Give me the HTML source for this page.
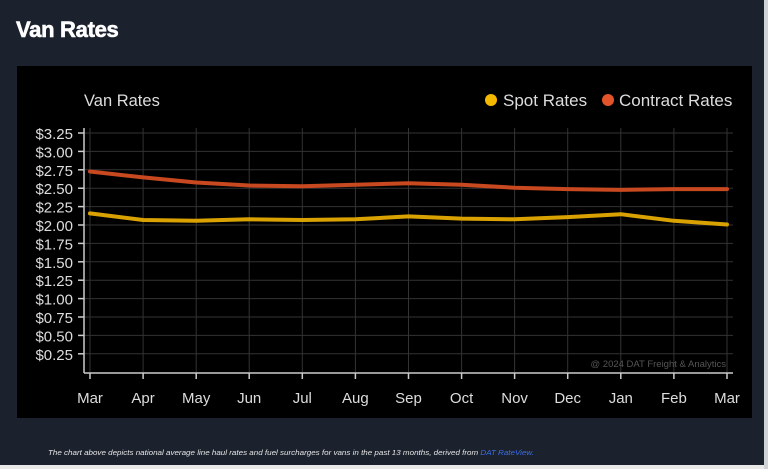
<!DOCTYPE html>
<html><head><style>
body{margin:0;width:768px;height:469px;background:#1b222d;overflow:hidden;font-family:"Liberation Sans",sans-serif;}
</style></head><body>
<svg width="768" height="469" xmlns="http://www.w3.org/2000/svg" style="position:absolute;left:0;top:0">
<rect x="0" y="0" width="768" height="469" fill="#1b222d"/>
<rect x="0" y="465" width="768" height="4" fill="#e8e8e8"/>
<rect x="764" y="0" width="4" height="469" fill="#cfd2d6"/>
<text x="16" y="37" fill="#fff" font-size="22" font-weight="bold" stroke="#fff" stroke-width="0.6" letter-spacing="-0.3">Van Rates</text>
<rect x="17" y="66" width="735" height="352" fill="#000"/>
<text x="84" y="106" fill="#ddd" font-size="16.5">Van Rates</text>
<circle cx="491" cy="100" r="6" fill="#f5b800"/>
<text x="503" y="106" fill="#ddd" font-size="17">Spot Rates</text>
<circle cx="608" cy="100" r="6" fill="#e4542a"/>
<text x="619" y="106" fill="#ddd" font-size="17">Contract Rates</text>
<g stroke="#333" stroke-width="1">
<line x1="84" x2="733" y1="133" y2="133"/><line x1="84" x2="733" y1="151.4" y2="151.4"/><line x1="84" x2="733" y1="169.8" y2="169.8"/><line x1="84" x2="733" y1="188.2" y2="188.2"/><line x1="84" x2="733" y1="206.6" y2="206.6"/><line x1="84" x2="733" y1="225" y2="225"/><line x1="84" x2="733" y1="243.4" y2="243.4"/><line x1="84" x2="733" y1="261.8" y2="261.8"/><line x1="84" x2="733" y1="280.2" y2="280.2"/><line x1="84" x2="733" y1="298.6" y2="298.6"/><line x1="84" x2="733" y1="317" y2="317"/><line x1="84" x2="733" y1="335.4" y2="335.4"/><line x1="84" x2="733" y1="353.8" y2="353.8"/>
<line x1="90" x2="90" y1="128" y2="372"/><line x1="143.1" x2="143.1" y1="128" y2="372"/><line x1="196.2" x2="196.2" y1="128" y2="372"/><line x1="249.2" x2="249.2" y1="128" y2="372"/><line x1="302.3" x2="302.3" y1="128" y2="372"/><line x1="355.4" x2="355.4" y1="128" y2="372"/><line x1="408.5" x2="408.5" y1="128" y2="372"/><line x1="461.6" x2="461.6" y1="128" y2="372"/><line x1="514.6" x2="514.6" y1="128" y2="372"/><line x1="567.7" x2="567.7" y1="128" y2="372"/><line x1="620.8" x2="620.8" y1="128" y2="372"/><line x1="673.9" x2="673.9" y1="128" y2="372"/><line x1="727" x2="727" y1="128" y2="372"/>
</g>
<g stroke="#ccc" stroke-width="1.5">
<line x1="84" x2="84" y1="128" y2="373"/><line x1="84" x2="733" y1="373" y2="373"/>
<line x1="78" x2="84" y1="133" y2="133"/><line x1="78" x2="84" y1="151.4" y2="151.4"/><line x1="78" x2="84" y1="169.8" y2="169.8"/><line x1="78" x2="84" y1="188.2" y2="188.2"/><line x1="78" x2="84" y1="206.6" y2="206.6"/><line x1="78" x2="84" y1="225" y2="225"/><line x1="78" x2="84" y1="243.4" y2="243.4"/><line x1="78" x2="84" y1="261.8" y2="261.8"/><line x1="78" x2="84" y1="280.2" y2="280.2"/><line x1="78" x2="84" y1="298.6" y2="298.6"/><line x1="78" x2="84" y1="317" y2="317"/><line x1="78" x2="84" y1="335.4" y2="335.4"/><line x1="78" x2="84" y1="353.8" y2="353.8"/>
<line x1="90" x2="90" y1="373" y2="379"/><line x1="143.1" x2="143.1" y1="373" y2="379"/><line x1="196.2" x2="196.2" y1="373" y2="379"/><line x1="249.2" x2="249.2" y1="373" y2="379"/><line x1="302.3" x2="302.3" y1="373" y2="379"/><line x1="355.4" x2="355.4" y1="373" y2="379"/><line x1="408.5" x2="408.5" y1="373" y2="379"/><line x1="461.6" x2="461.6" y1="373" y2="379"/><line x1="514.6" x2="514.6" y1="373" y2="379"/><line x1="567.7" x2="567.7" y1="373" y2="379"/><line x1="620.8" x2="620.8" y1="373" y2="379"/><line x1="673.9" x2="673.9" y1="373" y2="379"/><line x1="727" x2="727" y1="373" y2="379"/>
</g>
<g fill="#ddd" font-size="15" text-anchor="end">
<text x="73" y="139">$3.25</text><text x="73" y="157.4">$3.00</text><text x="73" y="175.8">$2.75</text><text x="73" y="194.2">$2.50</text><text x="73" y="212.6">$2.25</text><text x="73" y="231">$2.00</text><text x="73" y="249.4">$1.75</text><text x="73" y="267.8">$1.50</text><text x="73" y="286.2">$1.25</text><text x="73" y="304.6">$1.00</text><text x="73" y="323">$0.75</text><text x="73" y="341.4">$0.50</text><text x="73" y="359.8">$0.25</text>
</g>
<g fill="#ddd" font-size="15" text-anchor="middle">
<text x="90" y="403">Mar</text><text x="143.1" y="403">Apr</text><text x="196.2" y="403">May</text><text x="249.2" y="403">Jun</text><text x="302.3" y="403">Jul</text><text x="355.4" y="403">Aug</text><text x="408.5" y="403">Sep</text><text x="461.6" y="403">Oct</text><text x="514.6" y="403">Nov</text><text x="567.7" y="403">Dec</text><text x="620.8" y="403">Jan</text><text x="673.9" y="403">Feb</text><text x="727" y="403">Mar</text>
</g>
<text x="726" y="367" fill="#555" font-size="9.5" text-anchor="end">@ 2024 DAT Freight &amp; Analytics</text>
<polyline fill="none" stroke="#c8481f" stroke-width="4" stroke-linejoin="round" stroke-linecap="round" points="90,171.5 143.1,177.4 196.2,182.5 249.2,185.5 302.3,186.2 355.4,184.7 408.5,183.2 461.6,184.7 514.6,187.7 567.7,189.1 620.8,189.9 673.9,189.1 727,189.1"/>
<polyline fill="none" stroke="#d9a200" stroke-width="4" stroke-linejoin="round" stroke-linecap="round" points="90,213.4 143.1,220 196.2,220.8 249.2,219.3 302.3,220 355.4,219.3 408.5,216.4 461.6,218.6 514.6,219.3 567.7,217.1 620.8,214.2 673.9,220.8 727,224.5"/>
<text x="48" y="455" fill="#e6e6e6" font-size="7.2" font-style="italic" textLength="486" lengthAdjust="spacingAndGlyphs">The chart above depicts national average line haul rates and fuel surcharges for vans in the past 13 months, derived from <tspan fill="#3a6ee8">DAT RateView.</tspan></text>
</svg>
</body></html>
